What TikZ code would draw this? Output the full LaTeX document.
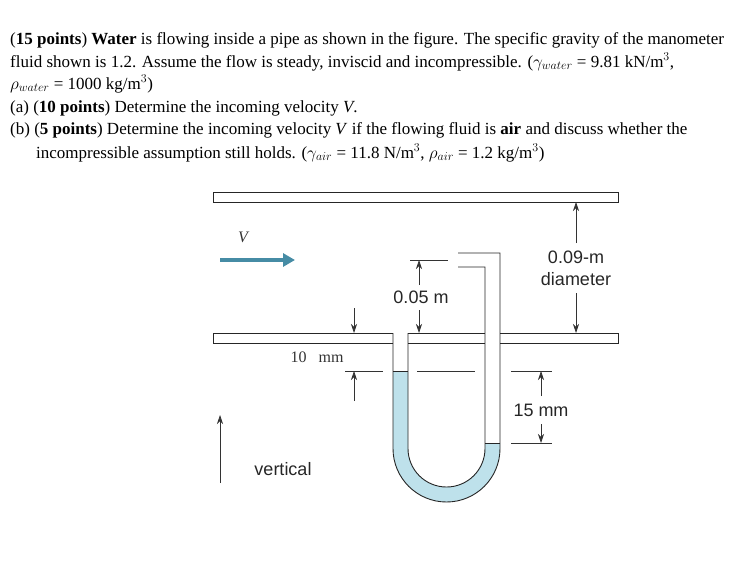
\documentclass[tikz,border=0pt]{standalone}
\usepackage{fontspec}
\setmainfont{Liberation Serif}
\newfontfamily\lsans{Liberation Sans}
\usetikzlibrary{arrows.meta}
\definecolor{liq}{RGB}{190,225,235}
\definecolor{teal2}{RGB}{70,140,165}
\tikzset{
 wall/.style={draw=black!85,line width=0.9pt},
 dim/.style={draw=black!80,line width=0.7pt},
 dimarr/.style={dim,-{Stealth[length=9pt,width=6pt]}},
 txt/.style={anchor=west,inner sep=0pt,font=\fontsize{17}{20}\selectfont},
 lab/.style={inner sep=0pt,font=\lsans\fontsize{18}{21}\selectfont,text=black!85},
}
\begin{document}
\begin{tikzpicture}[x=1pt,y=-1pt]
\useasboundingbox (0,0) rectangle (739,581);
% text
\node[txt] (t1) at (10,40) {(\textbf{15 points}) \textbf{Water} is flowing inside a pipe as shown in the figure. The specific gravity of the manometer};
\node[txt] (t2) at (10,62) {fluid shown is 1.2. Assume the flow is steady, inviscid and incompressible. ($\gamma_{water}$ = 9.81 kN/m$^3$,};
\node[txt] (t3) at (10,84) {$\rho_{water}$ = 1000 kg/m$^3$)};
\node[txt] (t4) at (10,108) {(a) (\textbf{10 points}) Determine the incoming velocity \textit{V}.};
\node[txt] (t5) at (10,130) {(b) (\textbf{5 points}) Determine the incoming velocity \textit{V} if the flowing fluid is \textbf{air} and discuss whether the};
\node[txt] (t6) at (36,153) {incompressible assumption still holds. ($\gamma_{air}$ = 11.8 N/m$^3$, $\rho_{air}$ = 1.2 kg/m$^3$)};
% liquid
\fill[liq] (393,371) -- (408,371) -- (408,448.5) arc[start angle=180,end angle=0,radius=38.5] -- (485,443) -- (500,443) -- (500,448.5) arc[start angle=0,end angle=180,radius=53.5] -- cycle;
% pipe walls
\draw[wall] (213,192) rectangle (618,202);
\draw[wall] (393,343) -- (213,343) -- (213,333) -- (393,333);
\draw[wall] (408,333) -- (485,333);
\draw[wall] (500,333) -- (618,333) -- (618,343) -- (500,343);
\draw[wall] (408,343) -- (485,343);
% manometer
\draw[wall] (393,333) -- (393,448.5) arc[start angle=180,end angle=0,radius=53.5] -- (500,253) -- (458,253);
\draw[wall] (408,333) -- (408,448.5) arc[start angle=180,end angle=0,radius=38.5] -- (485,267) -- (458,267);
\draw[wall] (393,371) -- (408,371);
\draw[wall] (485,443) -- (500,443);
% V arrow
\draw[teal2,line width=3.5pt,-{Triangle[length=12pt,width=13pt]}] (220,260) -- (295,260);
\node[inner sep=0pt,font=\itshape\fontsize{16}{18}\selectfont,text=black!80] (V) at (243,237) {V};
% 0.05 m
\draw[dim] (410,260) -- (448,260);
\node[lab] (d1) at (421,297) {0.05 m};
\draw[dimarr] (419,285) -- (419,260);
\draw[dimarr] (419,310) -- (419,333);
\draw[dimarr] (354,308) -- (354,333);
% 0.09 m
\node[lab,align=center,font=\lsans\fontsize{18}{22}\selectfont] (d2) at (576,268) {0.09-m\\diameter};
\draw[dimarr] (576,243) -- (576,202);
\draw[dimarr] (576,293) -- (576,333);
% 10 mm
\node[inner sep=0pt,font=\fontsize{16}{18}\selectfont,text=black!80] (d3) at (317,357) {10\,\,\, mm};
\draw[dim] (345,371) -- (383,371);
\draw[dim] (417,371) -- (475,371);
\draw[dimarr] (354,401) -- (354,371);
% 15 mm
\draw[dim] (511,371) -- (552,371);
\draw[dim] (511,443) -- (552,443);
\node[lab] (d4) at (541,410) {15 mm};
\draw[dimarr] (541,396) -- (541,371);
\draw[dimarr] (541,424) -- (541,443);
% vertical
\draw[dimarr] (220,483) -- (220,415);
\node[lab] (vt) at (283,469) {vertical};
\end{tikzpicture}
\end{document}
